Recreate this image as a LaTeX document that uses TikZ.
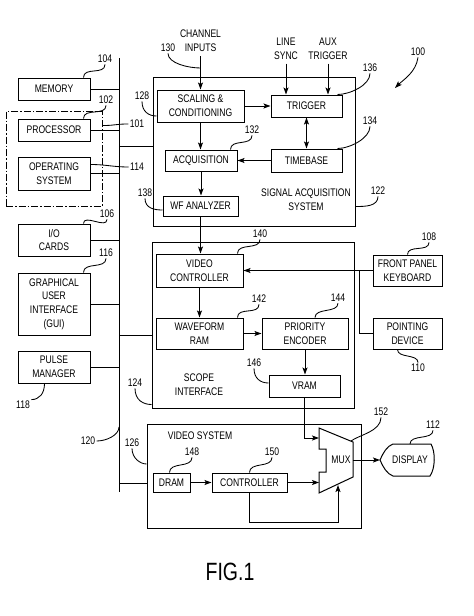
\documentclass[tikz,border=0pt]{standalone}
\usepackage{fontspec}
\setmainfont{Liberation Sans}[FakeStretch=0.78]
\usetikzlibrary{arrows.meta,calc}
\begin{document}
\begin{tikzpicture}[x=1pt,y=-1pt,line width=1pt,
  every node/.style={font=\fontsize{11}{13.6}\selectfont,align=center,inner sep=0pt},
  bx/.style args={#1x#2}{draw,minimum width=#1pt,minimum height=#2pt},
  lbl/.style={inner sep=1pt},
  ld/.style={line width=0.85pt},
  arr/.style={-{Stealth[length=7pt,width=5pt,inset=1.5pt]}},
  arrb/.style={{Stealth[length=7pt,width=5pt,inset=1.5pt]}-{Stealth[length=7pt,width=5pt,inset=1.5pt]}},
  dashdot/.style={dash pattern=on 7pt off 2pt on 1.5pt off 2pt}]
\useasboundingbox (0,0) rectangle (474,616);

% left column
\node[bx=72x22] (memory) at (54,89) {MEMORY};
\node[draw,dashdot,minimum width=96pt,minimum height=95pt] (dd) at (54,158.5) {};
\node[bx=72x22] (processor) at (54,130) {PROCESSOR};
\node[bx=72x33] (os) at (54,173.5) {OPERATING\\SYSTEM};
\node[bx=72x32] (io) at (54,240) {I/O\\CARDS};
\node[bx=72x62] (gui) at (54,304) {GRAPHICAL\\USER\\INTERFACE\\(GUI)};
\node[bx=72x32] (pulse) at (54,367) {PULSE\\MANAGER};

% bus
\coordinate (bustop) at (119,58);
\coordinate (busbot) at (119,492);
\coordinate (bus120) at (119,427);
\draw (bustop) -- (busbot);
\foreach \n in {memory,processor,os,io,gui,pulse}
  \draw (\n.east) -- (\n.east -| bustop);

% signal acquisition system
\node[bx=202x149] (sigacq) at (254,151.5) {};
\node[bx=87x32] (scaling) at (200.5,106) {SCALING \&\\CONDITIONING};
\node[bx=71x22] (trigger) at (306.5,106) {TRIGGER};
\node[bx=71x23] (timebase) at (306.5,160.5) {TIMEBASE};
\node[bx=72x21] (acq) at (201,160.5) {ACQUISITION};
\node[bx=75x20] (wf) at (200.5,206) {WF ANALYZER};
\node (satext) at (306,199.5) {SIGNAL ACQUISITION\\SYSTEM};
\node (chin) at (200.5,41) {CHANNEL\\INPUTS};
\node (lsync) at (286,48.5) {LINE\\SYNC};
\node (aux) at (328,48.5) {AUX\\TRIGGER};

\coordinate (b1) at (119,146);
\draw (b1) -- (b1 -| sigacq.west);

\draw[arr,shorten <=4pt] (chin.south) -- (scaling.north);
\draw[arr,shorten <=4pt] (lsync.south) -- (lsync.south |- trigger.north);
\draw[arr,shorten <=4pt] (aux.south) -- (aux.south |- trigger.north);
\draw[arr] (scaling) -- (trigger);
\draw[arrb] (trigger) -- (timebase);
\draw[arr] (scaling.south) -- (scaling.south |- acq.north);
\draw[arr] (timebase) -- (acq);
\draw[arr] (acq.south) -- (acq.south |- wf.north);

% scope interface
\node[bx=202x166] (scope) at (253,325) {};
\node[bx=87x33] (vidctrl) at (199.5,270.5) {VIDEO\\CONTROLLER};
\node[bx=87x31] (wfram) at (199.5,333.5) {WAVEFORM\\RAM};
\node[bx=86x31] (prienc) at (305,333.5) {PRIORITY\\ENCODER};
\node[bx=71x22] (vram) at (304.5,386) {VRAM};
\node (sctext) at (199,385) {SCOPE\\INTERFACE};

\coordinate (b2) at (119,335);
\draw (b2) -- (b2 -| scope.west);
\draw[arr] (wf.south) -- (wf.south |- vidctrl.north);
\draw[arr] (vidctrl) -- (wfram);
\draw[arr] (wfram) -- (prienc);
\draw[arr] (prienc.south) -- (prienc.south |- vram.north);

% keyboard / pointing
\node[bx=69x31] (keyboard) at (407.5,270.5) {FRONT PANEL\\KEYBOARD};
\node[bx=69x31] (pointing) at (407.5,333.5) {POINTING\\DEVICE};
\draw[arr] (keyboard) -- (vidctrl);
\coordinate (kj) at (359,270.5);
\draw (kj) |- (pointing.west);

% video system
\node[bx=214x104] (videosys) at (254,476) {};
\node (vstext) at (200,436) {VIDEO SYSTEM};
\node[bx=37x19] (dram) at (171.5,482.5) {DRAM};
\node[bx=75x19] (ctrl) at (249.5,482.5) {CONTROLLER};
\draw (319,428) -- (353,442) -- (353,477) -- (319,493) -- (319,472) -- (326,472) -- (326,449) -- (319,449) -- cycle;
\node (mux) at (341,460) {MUX};
\coordinate (muxin1) at (319,438);
\coordinate (muxin2) at (319,482.5);
\coordinate (muxsel) at (338,485);
\coordinate (muxout) at (353,460);
\coordinate (muxtr) at (351,441);
\coordinate (selcorner) at (338,522);

\coordinate (b3) at (119,483);
\draw (b3) -- (b3 -| videosys.west);
\draw[arr] (vram.south) |- (muxin1);
\draw[arr] (dram) -- (ctrl);
\draw[arr] (ctrl.east) -- (muxin2);
\draw[arr] (ctrl.south) |- (selcorner) -- (muxsel);

% display
\draw (393,444) -- (431,444) .. controls (435.5,452) and (435.5,468) .. (430,476) -- (393,476)
      .. controls (387,474) and (383,467) .. (380,460) .. controls (383,453) and (387,446) .. (393,444) -- cycle;
\node (display) at (410,460) {DISPLAY};
\coordinate (dispin) at (380,460);
\coordinate (disptop) at (410,444);
\draw[arr] (muxout) -- (dispin);

% reference numerals
\node[lbl] (l104) at (105,59) {104};
\node[lbl] (l102) at (106,100) {102};
\node[lbl] (l101) at (137,124) {101};
\node[lbl] (l114) at (137,167) {114};
\node[lbl] (l106) at (107,214) {106};
\node[lbl] (l116) at (106,253) {116};
\node[lbl] (l118) at (23,405) {118};
\node[lbl] (l120) at (88,441) {120};
\node[lbl] (l128) at (142,96) {128};
\node[lbl] (l130) at (168,48) {130};
\node[lbl] (l136) at (370,68) {136};
\node[lbl] (l134) at (370,121) {134};
\node[lbl] (l132) at (252,130) {132};
\node[lbl] (l138) at (145,193) {138};
\node[lbl] (l122) at (378,191) {122};
\node[lbl] (l108) at (429,237) {108};
\node[lbl] (l110) at (418,368) {110};
\node[lbl] (l140) at (260,234) {140};
\node[lbl] (l142) at (259,299) {142};
\node[lbl] (l144) at (338,298) {144};
\node[lbl] (l146) at (254,363) {146};
\node[lbl] (l124) at (135,383) {124};
\node[lbl] (l126) at (132,443) {126};
\node[lbl] (l148) at (192,452) {148};
\node[lbl] (l150) at (272,452) {150};
\node[lbl] (l152) at (381,412) {152};
\node[lbl] (l112) at (433,425) {112};
\node[lbl] (l100) at (418,52) {100};
\coordinate (c130) at (200.5,68);
\coordinate (c100) at (395,88);

\draw[ld] (l104.south) .. controls +(0,11) and +(0,-11) .. ($(memory.north east)+(-7,0)$);
\draw[ld] (l102.south) .. controls +(0,11) and +(0,-11) .. ($(processor.north east)+(-7,0)$);
\draw[ld] (l101.west) .. controls +(-14,0) and +(14,0) .. ($(dd.east)+(0,-33)$);
\draw[ld] (l114.west) .. controls +(-16,0) and +(16,0) .. ($(os.east)+(0,-9)$);
\draw[ld] (l106.south) .. controls +(0,10) and +(0,-10) .. ($(io.north east)+(-7,0)$);
\draw[ld] (l116.south) .. controls +(0,11) and +(0,-11) .. ($(gui.north east)+(-7,0)$);
\draw[ld] (l118.north east) .. controls +(8,0) and +(0,10) .. ($(pulse.south west)+(27,0)$);
\draw[ld] (l120.east) .. controls +(10,0) and +(0,8) .. (bus120);
\draw[ld] (l128.south) .. controls +(0,10) and +(-8,0) .. ($(scaling.west)+(0,10)$);
\draw[ld] (l130.south) .. controls +(0,10) and +(-12,0) .. (c130);
\draw[ld] (l136.south) .. controls +(0,12) and +(12,0) .. ($(trigger.north east)+(-5,0)$);
\draw[ld] (l134.south) .. controls +(0,12) and +(12,0) .. ($(timebase.north east)+(-5,0)$);
\draw[ld] (l132.south) .. controls +(0,11) and +(0,-11) .. ($(acq.north east)+(-7,0)$);
\draw[ld] (l138.south) .. controls +(0,10) and +(-8,0) .. ($(wf.west)+(0,4)$);
\draw[ld] (l122.south) .. controls +(0,10) and +(10,0) .. ($(sigacq.east)+(0,55)$);
\draw[ld] (l108.south) .. controls +(0,10) and +(0,-10) .. (keyboard.north);
\draw[ld] (l110.north) .. controls +(0,-9) and +(0,9) .. ($(pointing.south)+(-10,0)$);
\draw[ld] (l140.south) .. controls +(0,11) and +(0,-11) .. ($(vidctrl.north east)+(-6,0)$);
\draw[ld] (l142.south) .. controls +(0,11) and +(0,-11) .. ($(wfram.north east)+(-6,0)$);
\draw[ld] (l144.south) .. controls +(0,10) and +(0,-10) .. ($(prienc.north)+(10,0)$);
\draw[ld] (l146.south) .. controls +(0,10) and +(-8,0) .. ($(vram.west)+(0,-3)$);
\draw[ld] (l124.south) .. controls +(0,12) and +(-8,0) .. ($(scope.south west)+(0,-4)$);
\draw[ld] (l126.south) .. controls +(0,10) and +(-6,0) .. ($(videosys.west)+(0,-12)$);
\draw[ld] (l148.south) .. controls +(0,11) and +(0,-11) .. ($(dram.north)+(-2,0)$);
\draw[ld] (l150.south) .. controls +(0,11) and +(0,-11) .. (ctrl.north);
\draw[ld] (l152.south) .. controls +(0,14) and +(8,-6) .. (muxtr);
\draw[ld] (l112.south) .. controls +(0,10) and +(0,-10) .. (disptop);
\draw[ld,arr] (l100.south) .. controls +(-2,15) and +(8,-8) .. (c100);

\node[font=\fontsize{25}{30}\selectfont] (fig) at (230,572) {FIG.1};
\end{tikzpicture}
\end{document}
